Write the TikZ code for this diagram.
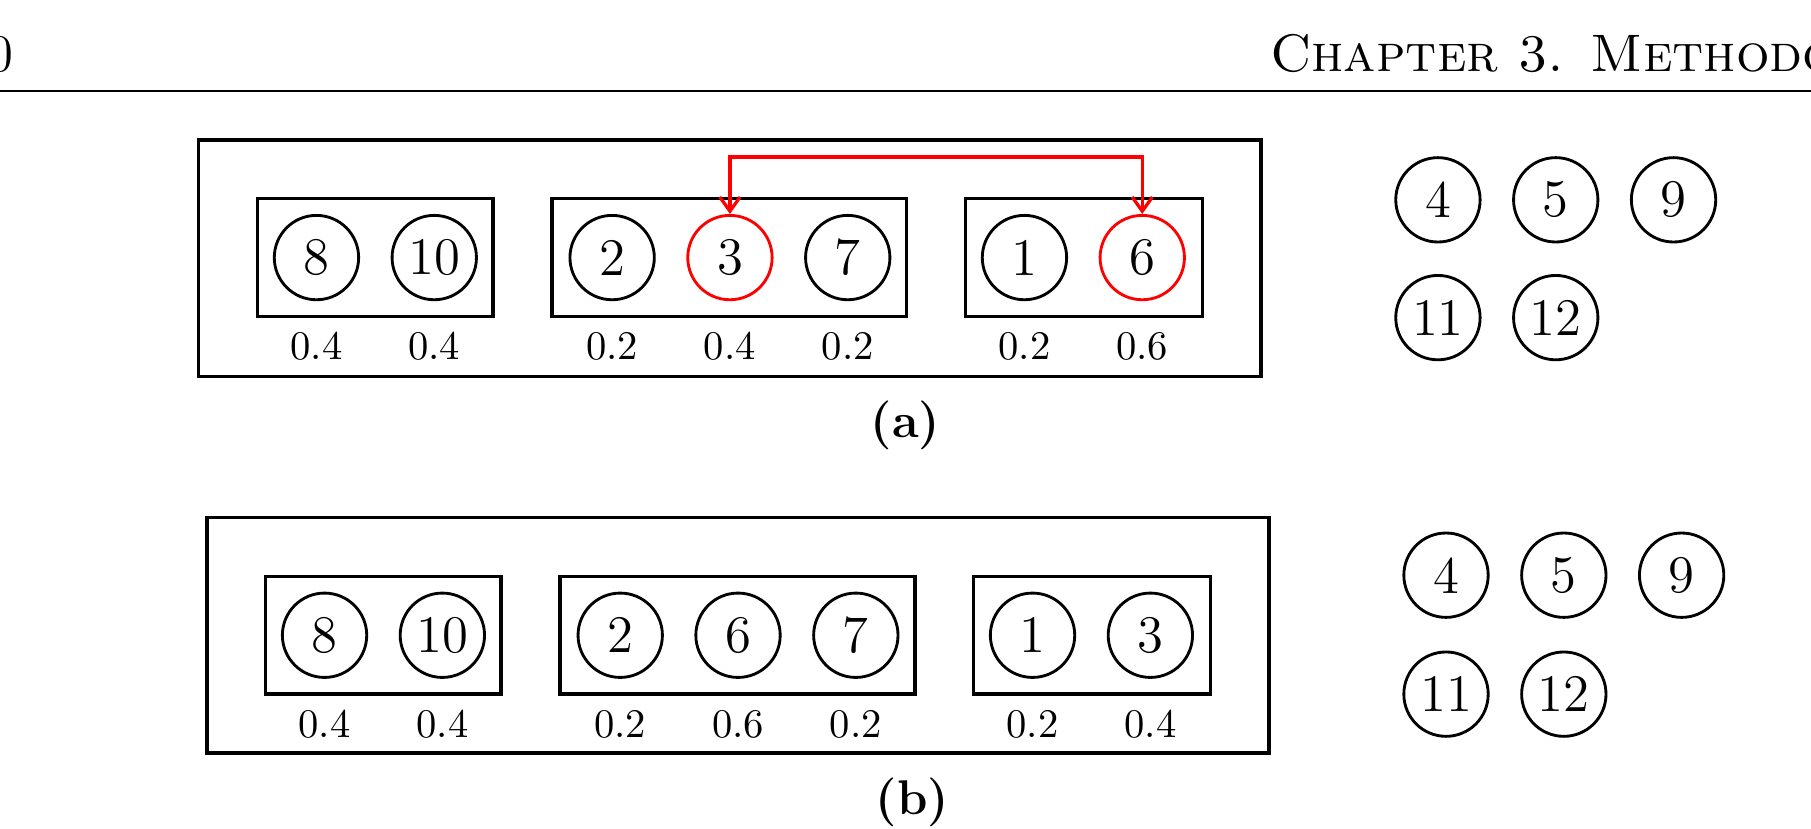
\documentclass[tikz,border=0pt]{standalone}
\usetikzlibrary{arrows.meta}
\begin{document}
\begin{tikzpicture}[x=0.01cm,y=-0.01cm,
  c/.style={circle,draw,line width=0.7pt,minimum size=0.73cm,inner sep=0pt,font=\fontsize{13}{15}\selectfont},
  rc/.style={c,draw=red},
  box/.style={draw,line width=0.9pt},
  lab/.style={font=\fontsize{10}{12}\selectfont},
  captxt/.style={font=\fontsize{12}{14}\selectfont\bfseries},
  rarr/.style={red,line width=0.8pt,-{Straight Barb[length=3.5pt,width=5pt]}}]
\path[use as bounding box] (0,0) rectangle (1568,717);
\clip (0,0) rectangle (1568,717);
\node[anchor=base,font=\fontsize{13}{15}\selectfont] (pg) at (0,62) {0};
\node[anchor=base west,inner sep=0pt,font=\fontsize{13}{15}\selectfont] (hd) at (1099,62) {\textsc{Chapter 3. Methodology}};
\draw[line width=0.5pt] (0,79) -- (1568,79);
% panel a
\draw[box] (172,121) rectangle (1092,326);
\draw[box] (223,172) rectangle (427,274);
\draw[box] (478,172) rectangle (785,274);
\draw[box] (836,172) rectangle (1041,274);
\foreach \n/\x/\l in {8/274/0.4,10/376/0.4,2/530/0.2,7/734/0.2,1/887/0.2}{
  \node[c] (a\n) at (\x,223) {\n};
  \node[lab] (al\n) at (\x,300) {\l};}
\node[rc] (a3) at (632,223) {3}; \node[lab] (al3) at (632,300) {0.4};
\node[rc] (a6) at (989,223) {6}; \node[lab] (al6) at (989,300) {0.6};
\coordinate (t3) at (632,136); \coordinate (t6) at (989,136);
\draw[rarr] (t3) -- (t6) -- (a6.north);
\draw[rarr] (t6) -- (t3) -- (a3.north);
\foreach \n/\x/\y in {4/1245/173,5/1347/173,9/1449/173,11/1245/275,12/1347/275}
  \node[c] (ar\n) at (\x,\y) {\n};
\node[captxt] (capa) at (784,368) {(a)};
% panel b
\draw[box] (179,448) rectangle (1099,652);
\draw[box] (230,499) rectangle (434,601);
\draw[box] (485,499) rectangle (792,601);
\draw[box] (843,499) rectangle (1048,601);
\foreach \n/\x/\l in {8/281/0.4,10/383/0.4,2/537/0.2,6/639/0.6,7/741/0.2,1/894/0.2,3/996/0.4}{
  \node[c] (b\n) at (\x,550) {\n};
  \node[lab] (bl\n) at (\x,627) {\l};}
\foreach \n/\x/\y in {4/1252/498,5/1354/498,9/1456/498,11/1252/601,12/1354/601}
  \node[c] (br\n) at (\x,\y) {\n};
\node[captxt] (capb) at (790,695) {(b)};
\end{tikzpicture}
\end{document}
